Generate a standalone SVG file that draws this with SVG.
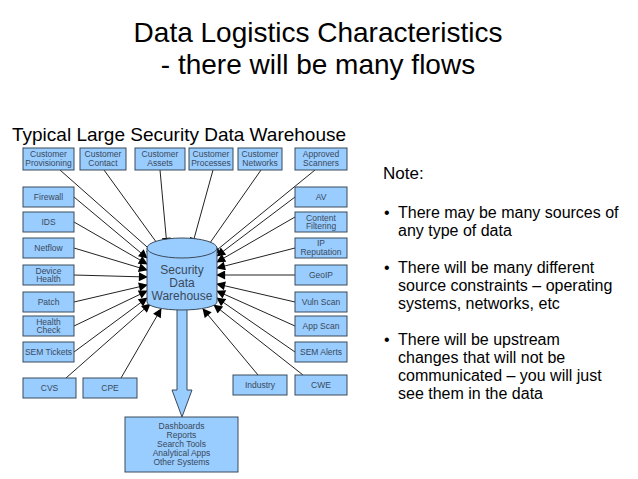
<svg xmlns="http://www.w3.org/2000/svg" width="638" height="479" viewBox="0 0 638 479">
<defs>
<marker id="ah" viewBox="0 0 10 10" refX="9" refY="5" markerWidth="10" markerHeight="9" orient="auto" markerUnits="userSpaceOnUse"><path d="M0,0 L10,5 L0,10 z" fill="#000"/></marker>
<style>
.b{fill:#99ccff;stroke:#3a4a5a;stroke-width:1}
.t{font-family:"Liberation Sans",Arial,sans-serif;font-size:8.5px;fill:#3a4a5a;text-anchor:middle}
.w{font-size:12px}
.c{stroke:#222;stroke-width:1;fill:none;marker-end:url(#ah)}
.h{font-family:"Liberation Sans",Arial,sans-serif;fill:#000}
</style>
</defs>
<rect width="638" height="479" fill="#fff"/>
<text class="h" x="318" y="42" font-size="28" text-anchor="middle">Data Logistics Characteristics</text>
<text class="h" x="318" y="74" font-size="28" text-anchor="middle">- there will be many flows</text>
<text class="h" x="12" y="141" font-size="19">Typical Large Security Data Warehouse</text>
<text class="h" x="383" y="179" font-size="17">Note:</text>
<g class="h" font-size="16">
<text x="384" y="218">•</text><text x="398" y="218">There may be many sources of</text><text x="398" y="236">any type of data</text>
<text x="384" y="273">•</text><text x="398" y="273">There will be many different</text><text x="398" y="291">source constraints – operating</text><text x="398" y="309">systems, networks, etc</text>
<text x="384" y="345">•</text><text x="398" y="345">There will be upstream</text><text x="398" y="363">changes that will not be</text><text x="398" y="381">communicated – you will just</text><text x="398" y="399">see them in the data</text>
</g>
<g id="connectors">
<line class="c" x1="60" y1="170" x2="155" y2="254"/>
<line class="c" x1="104" y1="170" x2="162" y2="250"/>
<line class="c" x1="160" y1="170" x2="167" y2="246"/>
<line class="c" x1="213" y1="170" x2="192" y2="246"/>
<line class="c" x1="261" y1="170" x2="205" y2="250"/>
<line class="c" x1="315" y1="170" x2="212" y2="254"/>
<line class="c" x1="74" y1="197" x2="147" y2="258"/>
<line class="c" x1="74" y1="222" x2="147" y2="264"/>
<line class="c" x1="74" y1="248" x2="147" y2="270"/>
<line class="c" x1="74" y1="275" x2="147" y2="277"/>
<line class="c" x1="74" y1="302" x2="147" y2="285"/>
<line class="c" x1="74" y1="326" x2="147" y2="291"/>
<line class="c" x1="74" y1="352" x2="147" y2="298"/>
<line class="c" x1="66" y1="378" x2="150" y2="304"/>
<line class="c" x1="121" y1="378" x2="161" y2="309"/>
<line class="c" x1="295" y1="197" x2="217" y2="256"/>
<line class="c" x1="295" y1="217" x2="217" y2="262"/>
<line class="c" x1="295" y1="248" x2="217" y2="268"/>
<line class="c" x1="295" y1="275" x2="217" y2="275"/>
<line class="c" x1="295" y1="302" x2="217" y2="284"/>
<line class="c" x1="295" y1="326" x2="217" y2="291"/>
<line class="c" x1="295" y1="352" x2="217" y2="298"/>
<line class="c" x1="303" y1="375" x2="214" y2="305"/>
<line class="c" x1="258" y1="375" x2="203" y2="309"/>
<path d="M177,307 L187,307 L187,390 L192,390 L182,417 L172,390 L177,390 z" fill="#99ccff" stroke="#3a4a5a"/>
</g>
<g id="warehouse">
<path class="b" d="M147,248 L147,302 A35,8 0 0 0 217,302 L217,248"/>
<ellipse class="b" cx="182" cy="248" rx="35" ry="10"/>
<text class="t w" x="182" y="274">Security</text>
<text class="t w" x="182" y="287">Data</text>
<text class="t w" x="182" y="300">Warehouse</text>
</g>
<g id="n1"><rect class="b" x="23" y="148" width="51" height="22"/><text class="t" x="48.5" y="157">Customer</text><text class="t" x="48.5" y="166">Provisioning</text></g>
<g id="n2"><rect class="b" x="80" y="148" width="46" height="22"/><text class="t" x="103" y="157">Customer</text><text class="t" x="103" y="166">Contact</text></g>
<g id="n3"><rect class="b" x="135" y="148" width="50" height="22"/><text class="t" x="160" y="157">Customer</text><text class="t" x="160" y="166">Assets</text></g>
<g id="n4"><rect class="b" x="189" y="148" width="44" height="22"/><text class="t" x="211" y="157">Customer</text><text class="t" x="211" y="166">Processes</text></g>
<g id="n5"><rect class="b" x="238" y="148" width="44" height="22"/><text class="t" x="260" y="157">Customer</text><text class="t" x="260" y="166">Networks</text></g>
<g id="n6"><rect class="b" x="295" y="148" width="52" height="22"/><text class="t" x="321" y="157">Approved</text><text class="t" x="321" y="166">Scanners</text></g>
<g id="n7"><rect class="b" x="23" y="187" width="51" height="20"/><text class="t" x="48.5" y="200">Firewall</text></g>
<g id="n8"><rect class="b" x="23" y="212" width="51" height="20"/><text class="t" x="48.5" y="225">IDS</text></g>
<g id="n9"><rect class="b" x="23" y="238" width="51" height="20"/><text class="t" x="48.5" y="251">Netflow</text></g>
<g id="n10"><rect class="b" x="23" y="265" width="51" height="20"/><text class="t" x="48.5" y="273.5">Device</text><text class="t" x="48.5" y="282">Health</text></g>
<g id="n11"><rect class="b" x="23" y="292" width="51" height="20"/><text class="t" x="48.5" y="305">Patch</text></g>
<g id="n12"><rect class="b" x="23" y="316" width="51" height="20"/><text class="t" x="48.5" y="324.5">Health</text><text class="t" x="48.5" y="333">Check</text></g>
<g id="n13"><rect class="b" x="23" y="342" width="51" height="20"/><text class="t" x="48.5" y="355">SEM Tickets</text></g>
<g id="n14"><rect class="b" x="23" y="378" width="53" height="20"/><text class="t" x="49.5" y="391">CVS</text></g>
<g id="n15"><rect class="b" x="83" y="378" width="54" height="20"/><text class="t" x="110" y="391">CPE</text></g>
<g id="n16"><rect class="b" x="295" y="187" width="52" height="20"/><text class="t" x="321" y="200">AV</text></g>
<g id="n17"><rect class="b" x="295" y="212" width="52" height="20"/><text class="t" x="321" y="220.5">Content</text><text class="t" x="321" y="229">Filtering</text></g>
<g id="n18"><rect class="b" x="295" y="238" width="52" height="20"/><text class="t" x="321" y="246">IP</text><text class="t" x="321" y="255">Reputation</text></g>
<g id="n19"><rect class="b" x="295" y="265" width="52" height="20"/><text class="t" x="321" y="278">GeoIP</text></g>
<g id="n20"><rect class="b" x="295" y="292" width="52" height="20"/><text class="t" x="321" y="305">Vuln Scan</text></g>
<g id="n21"><rect class="b" x="295" y="316" width="52" height="20"/><text class="t" x="321" y="329">App Scan</text></g>
<g id="n22"><rect class="b" x="295" y="342" width="52" height="20"/><text class="t" x="321" y="355">SEM Alerts</text></g>
<g id="n23"><rect class="b" x="233" y="375" width="54" height="20"/><text class="t" x="260" y="388">Industry</text></g>
<g id="n24"><rect class="b" x="295" y="375" width="52" height="20"/><text class="t" x="321" y="388">CWE</text></g>
<g id="out"><rect class="b" x="125" y="417" width="113" height="55"/>
<text class="t" x="181.5" y="429">Dashboards</text><text class="t" x="181.5" y="438">Reports</text><text class="t" x="181.5" y="447">Search Tools</text><text class="t" x="181.5" y="456">Analytical Apps</text><text class="t" x="181.5" y="465">Other Systems</text></g>
</svg>
